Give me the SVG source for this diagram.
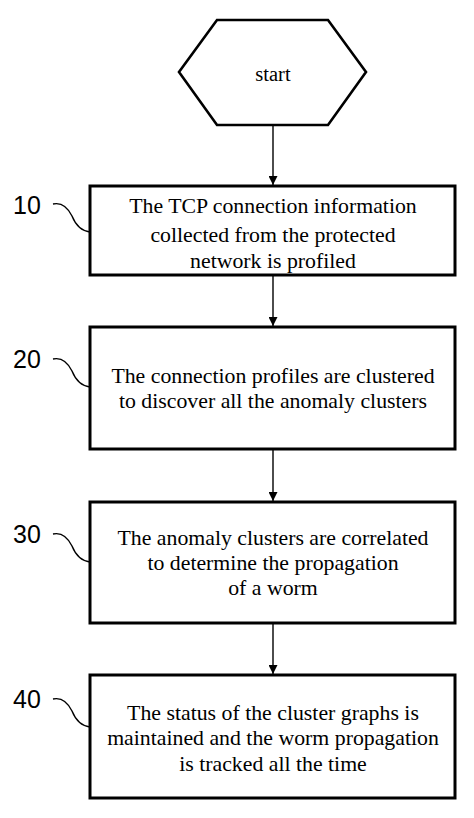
<svg xmlns="http://www.w3.org/2000/svg" width="474" height="818" viewBox="0 0 474 818">
<style>
.box{fill:#fff;stroke:#000;stroke-width:3}
.hex{fill:#fff;stroke:#000;stroke-width:2.6;stroke-linejoin:miter}
.t{font-family:"Liberation Serif","Times New Roman",serif;font-size:21.8px;fill:#000;text-anchor:middle}
.s{font-size:20.5px}
.lbl{font-family:"Liberation Sans",Arial,sans-serif;font-size:25px;fill:#000}
.con{stroke:#000;stroke-width:1.4;fill:none}
.lead{stroke:#000;stroke-width:1.4;fill:none}
</style>
<defs>
<marker id="ah" viewBox="0 0 10 10" refX="10" refY="5" markerWidth="9" markerHeight="9" markerUnits="userSpaceOnUse" orient="auto">
<path d="M0,0 L10,5 L0,10 Z" fill="#000"/>
</marker>
</defs>
<rect width="474" height="818" fill="#fff"/>
<g id="connectors">
<line class="con" x1="273" y1="125" x2="273" y2="185" marker-end="url(#ah)"/>
<line class="con" x1="273" y1="276" x2="273" y2="326" marker-end="url(#ah)"/>
<line class="con" x1="273" y1="450" x2="273" y2="501" marker-end="url(#ah)"/>
<line class="con" x1="273" y1="624" x2="273" y2="674" marker-end="url(#ah)"/>
</g>
<g id="start">
<polygon class="hex" points="217,20 328,20 366,72 328,125 217,125 179,72"/>
<text class="t s" x="273" y="81">start</text>
</g>
<g id="step10">
<rect class="box" x="90" y="186" width="365" height="89"/>
<text class="t" x="273" y="213">The TCP connection information</text>
<text class="t" x="273" y="242">collected from the protected</text>
<text class="t" x="273" y="268">network is profiled</text>
<text class="lbl" x="13" y="214">10</text>
<path class="lead" d="M53,204 C62,202 68,208 72,216 C76,226 82,231 90,232"/>
</g>
<g id="step20">
<rect class="box" x="90" y="327" width="365" height="122"/>
<text class="t" x="273" y="383">The connection profiles are clustered</text>
<text class="t" x="273" y="408">to discover all the anomaly clusters</text>
<text class="lbl" x="13" y="368">20</text>
<path class="lead" d="M53,359 C62,357 68,363 72,371 C76,381 82,386 90,387"/>
</g>
<g id="step30">
<rect class="box" x="90" y="502" width="365" height="121"/>
<text class="t" x="273" y="545">The anomaly clusters are correlated</text>
<text class="t" x="273" y="570">to determine the propagation</text>
<text class="t" x="273" y="595">of a worm</text>
<text class="lbl" x="13" y="543">30</text>
<path class="lead" d="M53,534 C62,532 68,538 72,546 C76,556 82,561 90,562"/>
</g>
<g id="step40">
<rect class="box" x="90" y="675" width="365" height="123"/>
<text class="t" x="273" y="720">The status of the cluster graphs is</text>
<text class="t" x="273" y="745">maintained and the worm propagation</text>
<text class="t" x="273" y="771">is tracked all the time</text>
<text class="lbl" x="13" y="708">40</text>
<path class="lead" d="M53,699 C62,697 68,703 72,711 C76,721 82,726 90,727"/>
</g>
</svg>
